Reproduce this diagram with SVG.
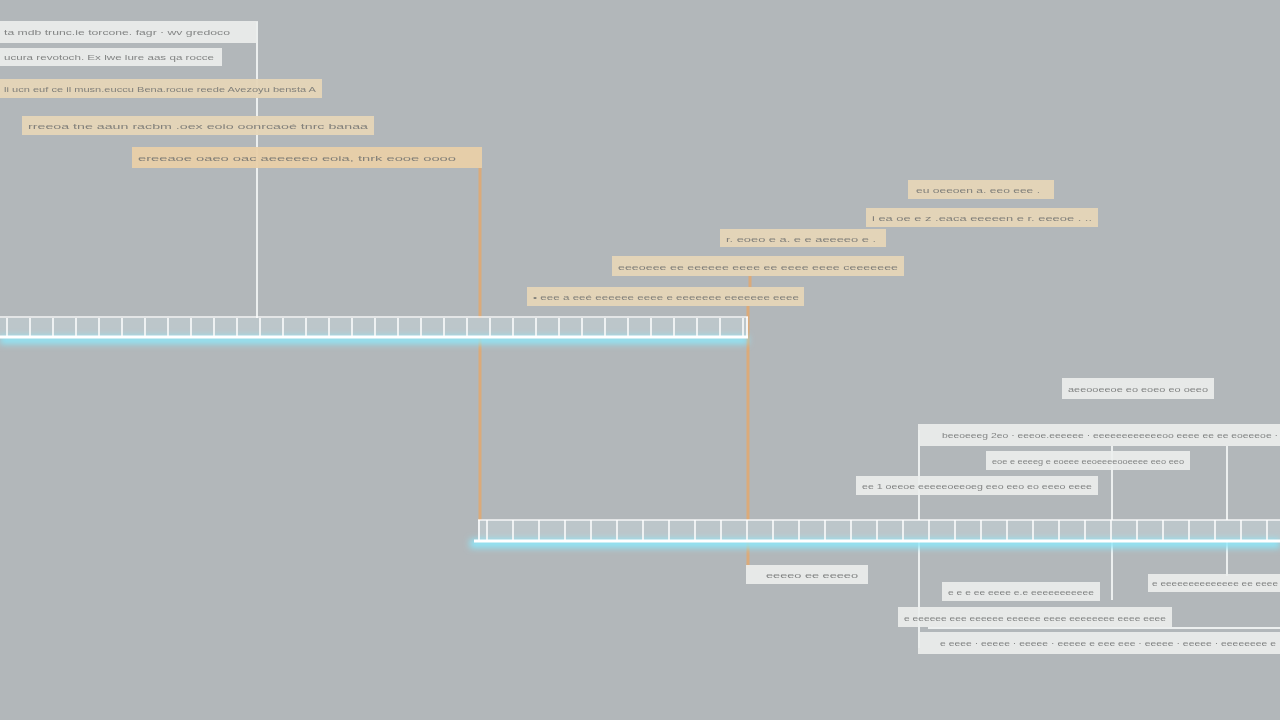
<svg xmlns="http://www.w3.org/2000/svg" width="1280" height="720" viewBox="0 0 1280 720">
<style>
.bg{fill:#b2b7ba}
.lw{fill:#eceeed;opacity:.9}
.lb{fill:#e6d5b7;opacity:.95}
.lo{fill:#e9cfa8;opacity:.95}
.t{font-family:"Liberation Sans",Arial,sans-serif;font-size:7.5px;fill:#6a6c6c;opacity:.8}
.cw{stroke:#f2f5f5;stroke-width:2;fill:none;opacity:.9}
.co{stroke:#e2a86e;stroke-width:3;fill:none;opacity:.85}
.rb{stroke:#ffffff;fill:none}
</style>
<defs>
<filter id="glow" filterUnits="userSpaceOnUse" x="0" y="0" width="1280" height="720">
<feGaussianBlur stdDeviation="3"/>
</filter>
<pattern id="cellsA" x="0" y="0" width="23" height="30" patternUnits="userSpaceOnUse">
<line x1="7" y1="0" x2="7" y2="30" stroke="#f4f6f6" stroke-width="1.8"/>
</pattern>
<pattern id="cellsB" x="478" y="0" width="26" height="30" patternUnits="userSpaceOnUse">
<line x1="9" y1="0" x2="9" y2="30" stroke="#f4f6f6" stroke-width="1.8"/>
</pattern>
</defs>
<rect class="bg" x="0" y="0" width="1280" height="720"/>

<g id="connectors">
<line class="cw" x1="257" y1="22" x2="257" y2="318"/>
<line class="co" x1="480" y1="168" x2="480" y2="522"/>
<line class="co" x1="748" y1="306" x2="748" y2="568"/>
<line class="co" x1="750" y1="276" x2="750" y2="288" stroke-width="1"/>
<line class="cw" x1="919" y1="430" x2="919" y2="648"/>
<line class="cw" x1="1112" y1="446" x2="1112" y2="600"/>
<line class="cw" x1="1227" y1="446" x2="1227" y2="576"/>
<line class="cw" x1="928" y1="628" x2="1280" y2="628" stroke-width="1.5"/>
</g>

<g id="ribbon-upper">
<rect x="0" y="318" width="748" height="19" fill="#bcc6ca"/>
<rect x="0" y="336" width="748" height="8" fill="#8fe6f8" filter="url(#glow)"/>
<rect x="0" y="318" width="748" height="19" fill="url(#cellsA)"/>
<line class="rb" x1="0" y1="317" x2="748" y2="317" stroke-width="1.6" opacity=".85"/>
<line class="rb" x1="0" y1="337" x2="748" y2="337" stroke-width="3"/>
<line class="rb" x1="747" y1="317" x2="747" y2="337" stroke-width="1.6"/>
</g>

<g id="ribbon-lower">
<rect x="478" y="520" width="802" height="21" fill="#bcc6ca"/>
<rect x="470" y="539" width="810" height="9" fill="#8fe6f8" filter="url(#glow)"/>
<rect x="478" y="520" width="802" height="21" fill="url(#cellsB)"/>
<line class="rb" x1="478" y1="520" x2="1280" y2="520" stroke-width="1.6" opacity=".85"/>
<line class="rb" x1="474" y1="541" x2="1280" y2="541" stroke-width="3"/>
<line class="rb" x1="479" y1="520" x2="479" y2="541" stroke-width="1.6"/>
</g>

<g id="n1"><rect class="lw" x="0" y="21" width="258" height="22"/><text class="t" x="4" y="35" textLength="226" lengthAdjust="spacingAndGlyphs">ta mdb trunc.ie torcone. fagr · wv gredoco</text></g>
<g id="n2"><rect class="lw" x="0" y="48" width="222" height="18"/><text class="t" x="4" y="60" textLength="210" lengthAdjust="spacingAndGlyphs">ucura revotoch. Ex lwe lure aas qa rocce</text></g>
<g id="n3"><rect class="lb" x="0" y="79" width="322" height="19"/><text class="t" x="4" y="92" textLength="312" lengthAdjust="spacingAndGlyphs">li ucn euf ce il musn.euccu Bena.rocue reede Avezoyu bensta A</text></g>
<g id="n4"><rect class="lb" x="22" y="116" width="352" height="19"/><text class="t" x="28" y="129" textLength="340" lengthAdjust="spacingAndGlyphs">rreeoa tne aaun racbm .oex eoio oonrcaoé tnrc banaa</text></g>
<g id="n5"><rect class="lo" x="132" y="147" width="350" height="21"/><text class="t" x="138" y="161" textLength="318" lengthAdjust="spacingAndGlyphs">ereeaoe oaeo oac aeeeeeo eoia, tnrk eooe oooo</text></g>

<g id="n6"><rect class="lb" x="908" y="180" width="146" height="19"/><text class="t" x="916" y="193" textLength="124" lengthAdjust="spacingAndGlyphs">eu oeeoen a. eeo eee .</text></g>
<g id="n7"><rect class="lb" x="866" y="208" width="232" height="19"/><text class="t" x="872" y="221" textLength="220" lengthAdjust="spacingAndGlyphs">i ea oe e z .eaca eeeeen e r. eeeoe . ..</text></g>
<g id="n8"><rect class="lb" x="720" y="229" width="166" height="18"/><text class="t" x="726" y="242" textLength="150" lengthAdjust="spacingAndGlyphs">r. eoeo e a. e e aeeeeo e .</text></g>
<g id="n9"><rect class="lb" x="612" y="256" width="292" height="20"/><text class="t" x="618" y="270" textLength="280" lengthAdjust="spacingAndGlyphs">eeeoeee ee eeeeee eeee ee eeee eeee ceeeeeee</text></g>
<g id="n10"><rect class="lb" x="527" y="287" width="277" height="19"/><text class="t" x="533" y="300" textLength="266" lengthAdjust="spacingAndGlyphs">• eee a eeé eeeeee eeee e eeeeeee eeeeeee eeee</text></g>

<g id="n11"><rect class="lw" x="1062" y="378" width="152" height="21"/><text class="t" x="1068" y="392" textLength="140" lengthAdjust="spacingAndGlyphs">aeeooeeoe eo eoeo eo oeeo</text></g>
<g id="n12"><rect class="lw" x="918" y="424" width="362" height="22"/><text class="t" x="942" y="438" textLength="336" lengthAdjust="spacingAndGlyphs">beeoeeeg 2eo · eeeoe.eeeeee · eeeeeeeeeeeeoo eeee ee ee eoeeeoe ·</text></g>
<g id="n13"><rect class="lw" x="986" y="451" width="204" height="19"/><text class="t" x="992" y="464" textLength="192" lengthAdjust="spacingAndGlyphs">eoe e eeeeg e eoeee eeoeeeeooeeee eeo eeo</text></g>
<g id="n14"><rect class="lw" x="856" y="476" width="242" height="19"/><text class="t" x="862" y="489" textLength="230" lengthAdjust="spacingAndGlyphs">ee 1 oeeoe eeeeeoeeoeg eeo eeo eo eeeo eeee</text></g>
<g id="n15"><rect class="lw" x="746" y="565" width="122" height="19"/><text class="t" x="766" y="578" textLength="92" lengthAdjust="spacingAndGlyphs">eeeeo ee eeeeo</text></g>
<g id="n16"><rect class="lw" x="1148" y="574" width="132" height="18"/><text class="t" x="1152" y="586" textLength="126" lengthAdjust="spacingAndGlyphs">e eeeeeeeeeeeeee ee eeee</text></g>
<g id="n17"><rect class="lw" x="942" y="582" width="158" height="19"/><text class="t" x="948" y="595" textLength="146" lengthAdjust="spacingAndGlyphs">e e e ee eeee e.e eeeeeeeeeee</text></g>
<g id="n18"><rect class="lw" x="898" y="607" width="274" height="20"/><text class="t" x="904" y="621" textLength="262" lengthAdjust="spacingAndGlyphs">e eeeeee eee eeeeee eeeeee eeee eeeeeeee eeee eeee</text></g>
<g id="n19"><rect class="lw" x="918" y="632" width="362" height="22"/><text class="t" x="940" y="646" textLength="336" lengthAdjust="spacingAndGlyphs">e eeee · eeeee · eeeee · eeeee e eee eee · eeeee · eeeee · eeeeeeee e</text></g>
</svg>
